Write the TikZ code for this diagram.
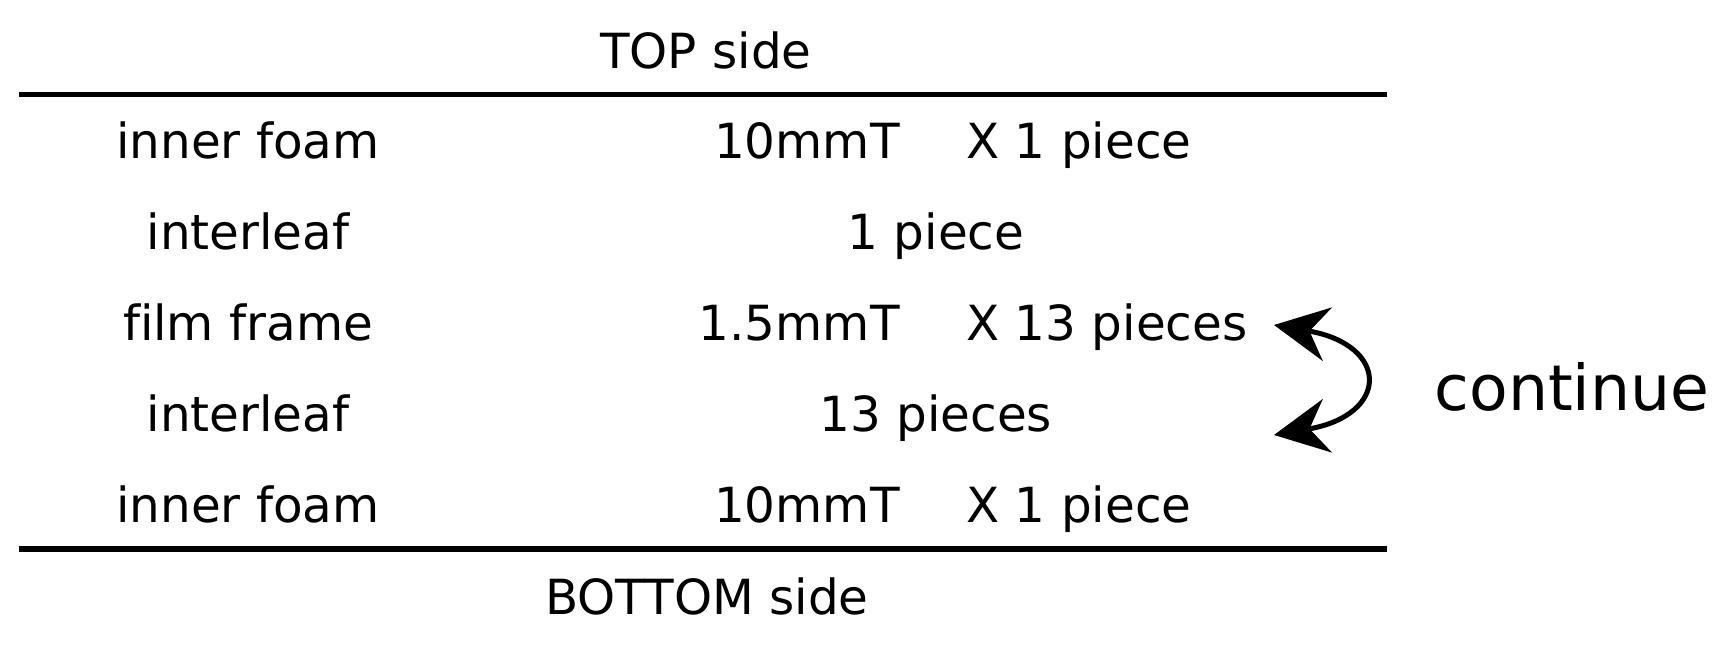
\documentclass[tikz,border=0pt]{standalone}
\usepackage{fontspec}
\setmainfont[Ligatures=NoCommon]{DejaVu Sans}
\usetikzlibrary{arrows.meta}
\begin{document}
\begin{tikzpicture}[x=0.5pt,y=-0.5pt,
  lbl/.style={inner sep=0pt,anchor=base,font=\fontsize{24.2}{29}\selectfont},
  rule/.style={line width=2.65pt},
  cont/.style={line width=2.5pt,{Stealth[length=27pt,width=27pt,inset=9pt]}-{Stealth[length=27pt,width=27pt,inset=9pt]}}]
\useasboundingbox (0,0) rectangle (1735,651);
% rules
\coordinate (tl) at (19,94.7);
\coordinate (tr) at (1387,94.7);
\coordinate (bl) at (19,549);
\coordinate (br) at (1387,549);
\draw[rule] (tl) -- (tr);
\draw[rule] (bl) -- (br);
% headings
\node[lbl] (top) at (706,69) {TOP side};
\node[lbl] (bottom) at (707,615) {BOTTOM side};
% column 1
\node[lbl] (r1a) at (248,159) {inner foam};
\node[lbl] (r2a) at (248,250) {interleaf};
\node[lbl] (r3a) at (248,341) {film frame};
\node[lbl] (r4a) at (248,432) {interleaf};
\node[lbl] (r5a) at (248,523) {inner foam};
% column 2
\node[lbl,anchor=base east] (r1b) at (900,159) {10mmT};
\node[lbl,anchor=base west] (r1c) at (966,159) {X 1 piece};
\node[lbl] (r2b) at (936,250) {1 piece};
\node[lbl,anchor=base east] (r3b) at (900,341) {1.5mmT};
\node[lbl,anchor=base west] (r3c) at (966,341) {X 13 pieces};
\node[lbl] (r4b) at (936,432) {13 pieces};
\node[lbl,anchor=base east] (r5b) at (900,523) {10mmT};
\node[lbl,anchor=base west] (r5c) at (966,523) {X 1 piece};
% continue
\node[lbl,font=\fontsize{31.6}{38}\selectfont] (cont) at (1572,411) {continue};
\coordinate (a1) at (1274,325);
\coordinate (a2) at (1274,435);
\draw[cont] (a1) .. controls (1390,345) and (1390,415) .. (a2);
\end{tikzpicture}
\end{document}
